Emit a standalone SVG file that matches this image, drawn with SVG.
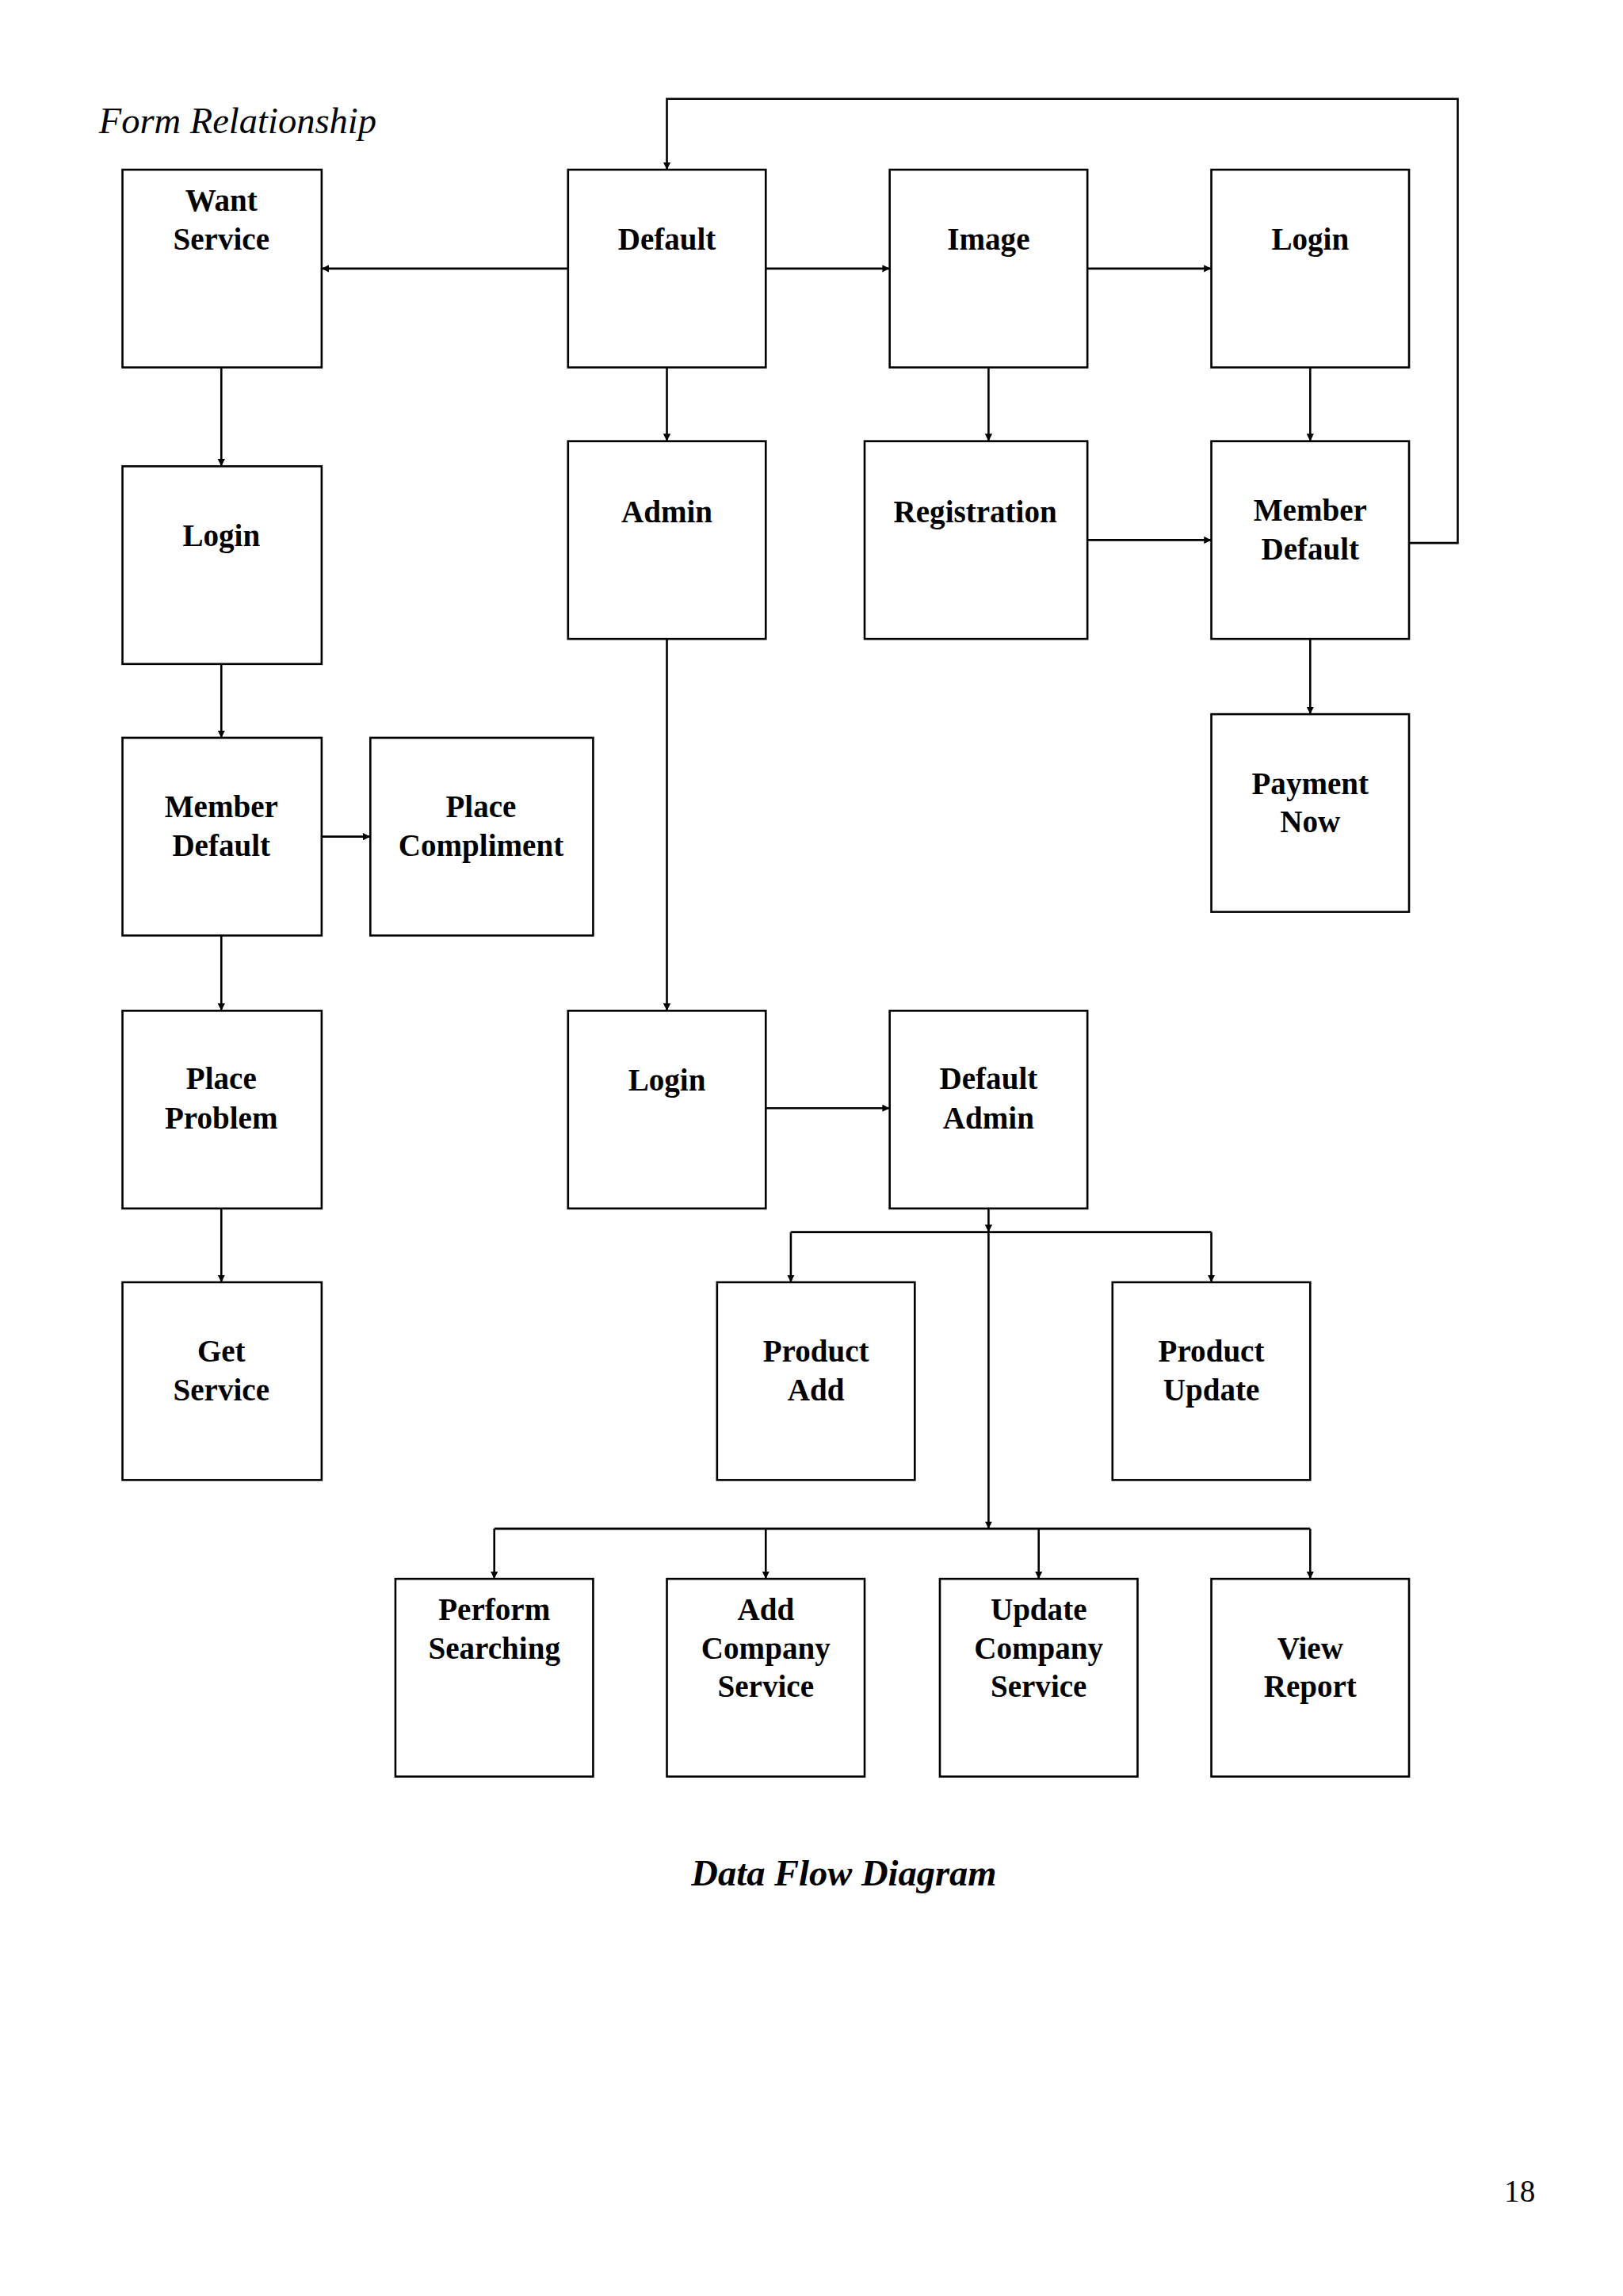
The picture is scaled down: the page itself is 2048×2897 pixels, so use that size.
<svg xmlns="http://www.w3.org/2000/svg" width="2048" height="2897" viewBox="0 0 2048 2897">
<defs>
<marker id="a" viewBox="0 0 10 10" refX="10" refY="5" markerWidth="5" markerHeight="5" orient="auto" markerUnits="userSpaceOnUse"><path d="M0,0 L10,5 L0,10 z" fill="#000"/></marker>
<style>
.n rect{fill:#fff;stroke:#000;stroke-width:1.4}
.n text{font-family:"Liberation Serif",serif;font-weight:bold;font-size:21px;text-anchor:middle}
.c path{fill:none;stroke:#000;stroke-width:1.4}
.c .m{marker-end:url(#a)}
</style>
</defs>
<rect width="2048" height="2897" fill="#fff"/>
<g transform="scale(1.8618)">
<text x="67" y="90" font-family="Liberation Serif,serif" font-style="italic" font-size="25">Form Relationship</text>
<g class="c">
<path class="m" d="M385,182 H218"/>
<path class="m" d="M519,182 H603"/>
<path class="m" d="M737,182 H821"/>
<path class="m" d="M452,249 V299"/>
<path class="m" d="M670,249 V299"/>
<path class="m" d="M888,249 V299"/>
<path class="m" d="M737,366 H821"/>
<path class="m" d="M955,368 H988 V67 H452 V115"/>
<path class="m" d="M888,433 V484"/>
<path class="m" d="M150,249 V316"/>
<path class="m" d="M150,450 V500"/>
<path class="m" d="M150,634 V685"/>
<path class="m" d="M150,819 V869"/>
<path class="m" d="M218,567 H251"/>
<path class="m" d="M452,433 V685"/>
<path class="m" d="M519,751 H603"/>
<path class="m" d="M670,819 V835"/>
<path d="M536,835 H821"/>
<path class="m" d="M536,835 V869"/>
<path class="m" d="M821,835 V869"/>
<path class="m" d="M670,835 V1036"/>
<path d="M335,1036 H888"/>
<path class="m" d="M335,1036 V1070"/>
<path class="m" d="M519,1036 V1070"/>
<path class="m" d="M704,1036 V1070"/>
<path class="m" d="M888,1036 V1070"/>
</g>
<g id="want" class="n"><rect x="83" y="115" width="135" height="134"/><text x="150" y="143">Want</text><text x="150" y="169">Service</text></g>
<g id="default" class="n"><rect x="385" y="115" width="134" height="134"/><text x="452" y="169">Default</text></g>
<g id="image" class="n"><rect x="603" y="115" width="134" height="134"/><text x="670" y="169">Image</text></g>
<g id="login1" class="n"><rect x="821" y="115" width="134" height="134"/><text x="888" y="169">Login</text></g>
<g id="login2" class="n"><rect x="83" y="316" width="135" height="134"/><text x="150" y="370">Login</text></g>
<g id="admin" class="n"><rect x="385" y="299" width="134" height="134"/><text x="452" y="354">Admin</text></g>
<g id="reg" class="n"><rect x="586" y="299" width="151" height="134"/><text x="661" y="354">Registration</text></g>
<g id="memdef1" class="n"><rect x="821" y="299" width="134" height="134"/><text x="888" y="353">Member</text><text x="888" y="379">Default</text></g>
<g id="pay" class="n"><rect x="821" y="484" width="134" height="134"/><text x="888" y="538">Payment</text><text x="888" y="564">Now</text></g>
<g id="memdef2" class="n"><rect x="83" y="500" width="135" height="134"/><text x="150" y="554">Member</text><text x="150" y="580">Default</text></g>
<g id="compl" class="n"><rect x="251" y="500" width="151" height="134"/><text x="326" y="554">Place</text><text x="326" y="580">Compliment</text></g>
<g id="problem" class="n"><rect x="83" y="685" width="135" height="134"/><text x="150" y="738">Place</text><text x="150" y="765">Problem</text></g>
<g id="login3" class="n"><rect x="385" y="685" width="134" height="134"/><text x="452" y="739">Login</text></g>
<g id="defadmin" class="n"><rect x="603" y="685" width="134" height="134"/><text x="670" y="738">Default</text><text x="670" y="765">Admin</text></g>
<g id="getsvc" class="n"><rect x="83" y="869" width="135" height="134"/><text x="150" y="923">Get</text><text x="150" y="949">Service</text></g>
<g id="padd" class="n"><rect x="486" y="869" width="134" height="134"/><text x="553" y="923">Product</text><text x="553" y="949">Add</text></g>
<g id="pupd" class="n"><rect x="754" y="869" width="134" height="134"/><text x="821" y="923">Product</text><text x="821" y="949">Update</text></g>
<g id="search" class="n"><rect x="268" y="1070" width="134" height="134"/><text x="335" y="1098">Perform</text><text x="335" y="1124">Searching</text></g>
<g id="addco" class="n"><rect x="452" y="1070" width="134" height="134"/><text x="519" y="1098">Add</text><text x="519" y="1124">Company</text><text x="519" y="1150">Service</text></g>
<g id="updco" class="n"><rect x="637" y="1070" width="134" height="134"/><text x="704" y="1098">Update</text><text x="704" y="1124">Company</text><text x="704" y="1150">Service</text></g>
<g id="report" class="n"><rect x="821" y="1070" width="134" height="134"/><text x="888" y="1124">View</text><text x="888" y="1150">Report</text></g>
<text x="572" y="1278" font-family="Liberation Serif,serif" font-style="italic" font-weight="bold" font-size="25" text-anchor="middle">Data Flow Diagram</text>
<text x="1030" y="1492" font-family="Liberation Serif,serif" font-size="21" text-anchor="middle">18</text>
</g>
</svg>
